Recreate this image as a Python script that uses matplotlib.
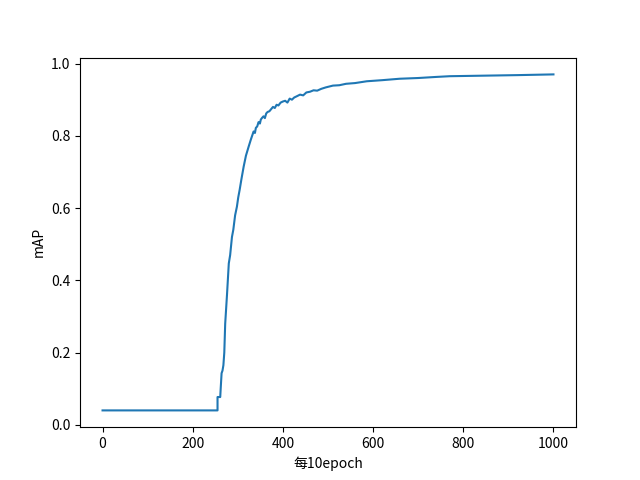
import numpy as np
import matplotlib
matplotlib.use("Agg")
from matplotlib import pyplot as plt

plt.rcParams['font.family'] = ['Noto Sans CJK SC', 'DejaVu Sans']

# mAP values (x = every 10 epochs)
epochs = [0, 100, 200, 255, 255, 261, 262, 264, 266, 268, 270, 272,
          276, 280, 283, 287, 290, 294, 298, 301, 304, 308, 313, 318,
          324, 329, 335, 338, 340, 343, 346, 349, 351, 354, 357, 360,
          363, 366, 370, 374, 378, 382, 386, 390, 395, 400, 405, 410,
          415, 420, 425, 430, 438, 445, 452, 460, 468, 476, 485, 495,
          511, 525, 540, 560, 586, 620, 659, 700, 740, 770, 820, 870,
          920, 960, 1000]
mAP = [0.040, 0.040, 0.040, 0.040, 0.077, 0.077, 0.100, 0.143, 0.150, 0.165,
       0.200, 0.280, 0.360, 0.447, 0.470, 0.520, 0.540, 0.580, 0.604, 0.630,
       0.650, 0.680, 0.715, 0.745, 0.770, 0.790, 0.812, 0.808, 0.822, 0.826,
       0.838, 0.834, 0.845, 0.850, 0.854, 0.849, 0.862, 0.866, 0.868, 0.874,
       0.880, 0.877, 0.886, 0.884, 0.892, 0.895, 0.897, 0.892, 0.903, 0.900,
       0.906, 0.909, 0.914, 0.912, 0.920, 0.922, 0.926, 0.925, 0.930, 0.934,
       0.939, 0.940, 0.944, 0.946, 0.951, 0.954, 0.958, 0.960, 0.963, 0.965,
       0.966, 0.967, 0.968, 0.969, 0.970]

fig, ax = plt.subplots(figsize=(6.4, 4.8), dpi=100)
ax.plot(epochs, mAP)
ax.set_xlabel("每10epoch")
ax.set_ylabel("mAP")
fig.savefig("out.png")
